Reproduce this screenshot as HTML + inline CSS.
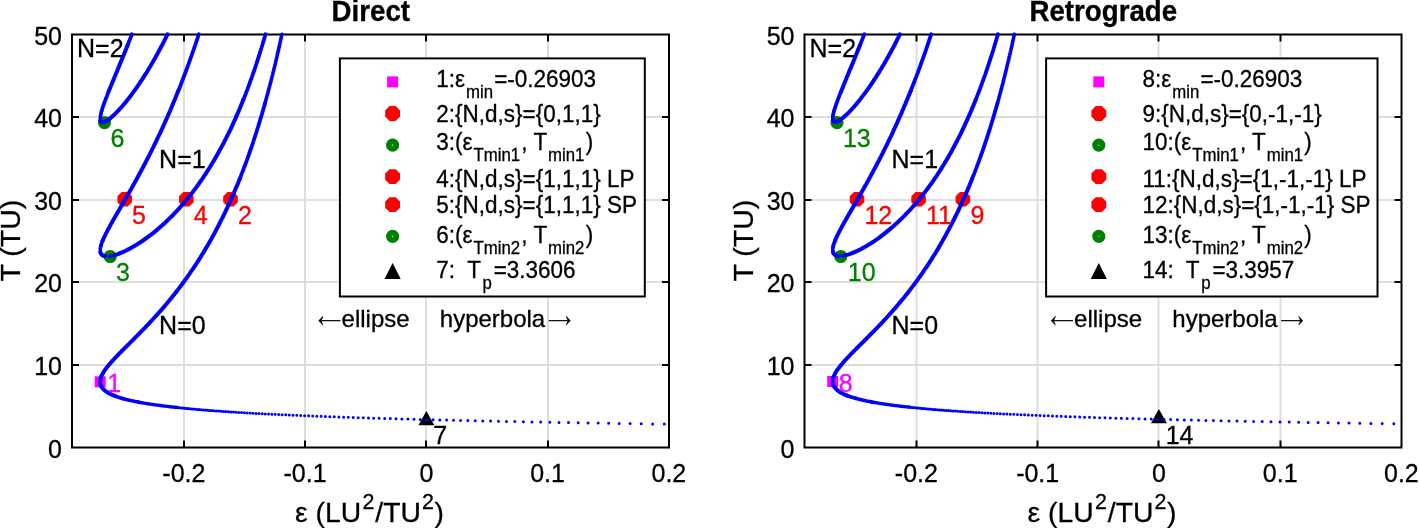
<!DOCTYPE html>
<html><head><meta charset="utf-8"><title>Lambert TOF vs energy</title>
<style>
html,body{margin:0;padding:0;background:#fff;overflow:hidden}
svg{display:block}

</style></head><body>
<svg width="1419" height="528" viewBox="0 0 1419 528" font-family="'Liberation Sans', Arial, Helvetica, sans-serif">
<rect width="1419" height="528" fill="#fff"/>
<path d="M184 34.5V447.5M305 34.5V447.5M426 34.5V447.5M548 34.5V447.5M72 365H669M72 282H669M72 200H669M72 117H669" stroke="#dedede" stroke-width="2" fill="none"/>
<path d="M184 447.5v-7M184 34.5v7M305 447.5v-7M305 34.5v7M426 447.5v-7M426 34.5v7M548 447.5v-7M548 34.5v7M72 365h7M669 365h-7M72 282h7M669 282h-7M72 200h7M669 200h-7M72 117h7M669 117h-7" stroke="#000" stroke-width="2" fill="none"/>
<rect x="72" y="34.5" width="597" height="413" stroke="#000" stroke-width="2" fill="none"/>
<rect x="94.7" y="376.3" width="11" height="11" fill="#ff00ff"/>
<polygon points="237.8,202.2 233.6,206.5 227.5,206.5 223.2,202.2 223.2,196.2 227.5,191.9 233.6,191.9 237.8,196.2" fill="#ff0000"/>
<circle cx="110.2" cy="256.5" r="3.6" fill="#fff" stroke="#008000" stroke-width="6.0"/>
<polygon points="193.6,202.2 189.3,206.5 183.3,206.5 179,202.2 179,196.2 183.3,191.9 189.3,191.9 193.6,196.2" fill="#ff0000"/>
<polygon points="132,202.2 127.7,206.5 121.6,206.5 117.4,202.2 117.4,196.2 121.6,191.9 127.7,191.9 132,196.2" fill="#ff0000"/>
<circle cx="104.5" cy="122.6" r="3.6" fill="#fff" stroke="#008000" stroke-width="6.0"/>
<polygon points="426.4,411 434.4,425.3 418.4,425.3" fill="#000"/>
<g stroke="#0000ff" stroke-linecap="round" stroke-linejoin="round" fill="none">
<path d="M100.2 381.8L100.3 383.4M176.4 407.4L178 407.6M100.2 381.6L100.3 380M100.2 250.3L100.3 251.9M100.2 250.1L100.3 248.4M100.2 118.7L100.4 120.4M100.2 118.6L100.3 116.9" stroke-width="3.2"/>
<path d="M138.4 402.1L140.2 402.5 142 402.8 143.9 403.1 145.9 403.4 148 403.8 150.1 404.1 152.4 404.4 154.7 404.8 157.1 405.1 159.5 405.4 162.1 405.8 164.8 406.1 167.5 406.4 170.4 406.7 173.3 407.1 174.9 407.2 176.4 407.4M109.4 256.2L111.5 255.9M100.3 248.4L100.6 247M100.3 116.9L100.6 115.4" stroke-width="3.4"/>
<path d="M100.3 383.4L100.7 384.9M122.5 398.5L124.3 399 126.2 399.5 128.2 400 130.4 400.5 131.8 400.8 133.4 401.1 135 401.5 136.7 401.8 138.4 402.1M100.3 380L100.7 378.5M265 103.3L265.4 101.9 265.8 100.4 266.2 98.9 266.6 97.4 267 95.9 267.4 94.4 267.9 92.9 268.2 91.5 268.6 90 269 88.5 269.4 87 269.8 85.5 270.2 84 270.6 82.5 271 81 271.3 79.6 271.7 78.1 272.1 76.6 272.5 75.1 272.8 73.6 273.2 72.1 273.6 70.6 273.9 69.1 274.3 67.7 274.7 66.2 275 64.7 275.4 63.2 275.7 61.7 276.1 60.2 276.4 58.7 276.8 57.2 277.1 55.8 277.5 54.3 277.8 52.8 278.1 51.3 278.5 49.8 278.8 48.3 279.2 46.8 279.5 45.3 279.8 43.9 280.1 42.4 280.5 40.9 280.8 39.4 281.1 37.9 281.4 36.4 281.8 34.9 281.9 34.3M103.4 255.7L105.2 256.2M111.5 255.9L113 255.5 114.8 255M100.6 247L101 245.5M100.6 115.4L100.9 113.9 101.2 112.4 101.6 111" stroke-width="3.6"/>
<path d="M114.6 395.8L116.3 396.5 117.7 397 119.2 397.5 120.8 398 122.5 398.5M100.7 378.5L101.1 377M239.6 179.2L240.2 177.7 240.8 176.2 241.3 174.7 241.9 173.3 242.5 171.8 243.1 170.3 243.6 168.8 244.2 167.3 244.8 165.8 245.3 164.3 245.9 162.8 246.4 161.4 247 159.9 247.5 158.4 248 156.9 248.6 155.4 249.1 153.9 249.6 152.4 250.1 150.9 250.6 149.5 251.2 148 251.7 146.5 252.2 145 252.7 143.5 253.2 142 253.7 140.5 254.1 139 254.6 137.6 255.1 136.1 255.6 134.6 256.1 133.1 256.6 131.6 257 130.1 257.5 128.6 258 127.1 258.4 125.7 258.9 124.2 259.3 122.7 259.8 121.2 260.2 119.7 260.7 118.2 261.1 116.7 261.6 115.2 262 113.8 262.4 112.3 262.9 110.8 263.3 109.3 263.7 107.8 264.2 106.3 264.6 104.8 265 103.3M100.3 251.9L100.8 253.4M114.8 255L116.4 254.6 117.8 254.1 119.6 253.4M243.4 99.5L244 98.1 244.6 96.6 245.2 95.1 245.8 93.6 246.3 92.1 246.9 90.6 247.5 89.1 248 87.7 248.6 86.2 249.1 84.7 249.7 83.2 250.2 81.7 250.7 80.2 251.3 78.7 251.8 77.2 252.3 75.8 252.8 74.3 253.4 72.8 253.9 71.3 254.4 69.8 254.9 68.3 255.4 66.8 255.9 65.3 256.4 63.9 256.9 62.4 257.3 60.9 257.8 59.4 258.3 57.9 258.8 56.4 259.3 54.9 259.7 53.4 260.2 52 260.6 50.5 261.1 49 261.6 47.5 262 46 262.5 44.5 262.9 43 263.3 41.5 263.8 40.1 264.2 38.6 264.7 37.1 265.1 35.6 265.5 34.3M101 245.5L101.4 244 101.9 242.5 102.5 241M178.4 90.6L179 89.1 179.6 87.7 180.2 86.2 180.8 84.7 181.3 83.2 181.9 81.7 182.5 80.2 183.1 78.7 183.6 77.2 184.2 75.8 184.7 74.3 185.3 72.8 185.9 71.3 186.4 69.8 187 68.3 187.5 66.8 188 65.3 188.6 63.9 189.1 62.4 189.7 60.9 190.2 59.4 190.7 57.9 191.3 56.4 191.8 54.9 192.3 53.4 192.8 52 193.3 50.5 193.8 49 194.4 47.5 194.9 46 195.4 44.5 195.9 43 196.4 41.5 196.9 40.1 197.4 38.6 197.9 37.1 198.3 35.6 198.8 34.3M103.5 122.2L105 121.7M101.6 111L102.1 109.5 102.5 108 103 106.5 103.5 105 104.1 103.5 104.6 102 105.2 100.5 105.7 99.1 106.3 97.6 106.9 96.1 107.4 94.6 108 93.1 108.6 91.6M127.5 45.5L128.1 44 128.6 42.5 129.2 41.1 129.8 39.6 130.4 38.1 131 36.6 131.6 35.1 131.9 34.3" stroke-width="3.8"/>
<path d="M100.7 384.9L101.3 386.4 102.2 387.7 103.3 389.1 104.5 390.2 105.7 391.2 107.2 392.2 108.5 393 110.1 393.9 111.4 394.5 112.9 395.2 114.6 395.8M101.1 377L101.7 375.5 102.5 374 103.2 372.7 104 371.4 104.9 370.1 105.9 368.7 106.9 367.4 107.9 366.1 109 364.8 110 363.6 111 362.5 112 361.3 113.1 360.1 114.1 359 115.2 357.8 116.3 356.7 117.4 355.5 118.5 354.4 119.7 353.2 120.8 352.1 121.9 350.9 123.1 349.7 124.3 348.6 125.4 347.4 126.6 346.3 127.7 345.1 128.9 344 130 342.8 131.2 341.6 132.4 340.5 133.5 339.3 134.7 338.2 135.8 337 137 335.9 138.1 334.7 139.3 333.5 140.4 332.4 141.5 331.2 142.6 330.1 143.8 328.9 144.9 327.8 146 326.6 147.1 325.4 148.2 324.3 149.3 323.1 150.4 322 151.4 320.8 152.5 319.7 153.6 318.5 154.6 317.3 155.7 316.2 156.7 315 157.8 313.9 158.8 312.7 159.8 311.6 160.9 310.4 161.9 309.3 162.9 308.1 163.9 306.9 164.9 305.8 165.8 304.6 166.8 303.5 167.8 302.3 168.7 301.2 169.7 300 170.8 298.7 171.9 297.4 172.9 296 174 294.7 175 293.4 176.1 292.1 177.1 290.7 178.1 289.4 179.1 288.1 180.1 286.8 181.1 285.5 182.1 284.1 183.1 282.8 184.1 281.5 185 280.2 186 278.8 186.9 277.5 187.9 276.2 188.8 274.9 189.7 273.6 190.6 272.2 191.5 270.9 192.4 269.6 193.3 268.3 194.2 266.9 195.1 265.6 196 264.3 196.8 263 197.7 261.7 198.5 260.3 199.4 259 200.2 257.7 201 256.4 201.8 255 202.6 253.7 203.5 252.4 204.3 251.1 205 249.8 205.8 248.4 206.6 247.1 207.4 245.8 208.2 244.5 208.9 243.2 209.7 241.8 210.4 240.5 211.2 239.2 211.9 237.9 212.6 236.5 213.4 235.2 214.1 233.9 214.8 232.6 215.5 231.3 216.3 229.8 217.1 228.3 217.9 226.8 218.6 225.3 219.4 223.8 220.1 222.3 220.9 220.8 221.6 219.4 222.4 217.9 223.1 216.4 223.8 214.9 224.6 213.4 225.3 211.9 226 210.4 226.7 208.9 227.4 207.5 228.1 206 228.7 204.5 229.4 203 230.1 201.5 230.8 200 231.4 198.5 232.1 197 232.7 195.6 233.4 194.1 234 192.6 234.7 191.1 235.3 189.6 235.9 188.1 236.5 186.6 237.2 185.1 237.8 183.7 238.4 182.2 239 180.7 239.6 179.2M100.8 253.4L101.8 254.7 103.4 255.7M119.6 253.4L121.3 252.7 122.8 252.1 124.3 251.4 125.6 250.8 127.3 249.9 128.9 249.1 130.5 248.3 131.9 247.4 133.4 246.6 134.8 245.8 136.2 245 137.5 244.1 138.8 243.3 140.1 242.5 141.6 241.5 143 240.5 144.4 239.5 145.8 238.5 147.2 237.5 148.5 236.5 149.9 235.5 151.1 234.6 152.4 233.6 153.7 232.6 154.9 231.6 156.1 230.6 157.3 229.6 158.4 228.6 159.6 227.6 160.7 226.6 162 225.5 163.3 224.3 164.6 223.2 165.8 222 167 220.8 168.2 219.7 169.4 218.5 170.6 217.4 171.7 216.2 172.9 215.1 174 213.9 175.1 212.7 176.2 211.6 177.3 210.4 178.3 209.3 179.4 208.1 180.4 207 181.4 205.8 182.4 204.6 183.4 203.5 184.4 202.3 185.4 201.2 186.4 200 187.5 198.7 188.5 197.4 189.6 196.1 190.6 194.7 191.7 193.4 192.7 192.1 193.7 190.8 194.7 189.4 195.7 188.1 196.7 186.8 197.6 185.5 198.6 184.2 199.5 182.8 200.4 181.5 201.3 180.2 202.3 178.9 203.2 177.5 204 176.2 204.9 174.9 205.8 173.6 206.6 172.3 207.5 170.9 208.3 169.6 209.2 168.3 210 167 210.8 165.6 211.6 164.3 212.4 163 213.2 161.7 214 160.4 214.8 159 215.5 157.7 216.3 156.4 217.1 155.1 217.8 153.8 218.5 152.4 219.3 151.1 220 149.8 220.7 148.5 221.4 147.1 222.2 145.7 223 144.2 223.8 142.7 224.6 141.2 225.3 139.7 226.1 138.2 226.8 136.7 227.6 135.2 228.3 133.8 229 132.3 229.8 130.8 230.5 129.3 231.2 127.8 231.9 126.3 232.6 124.8 233.2 123.3 233.9 121.9 234.6 120.4 235.3 118.9 235.9 117.4 236.6 115.9 237.2 114.4 237.9 112.9 238.5 111.4 239.1 110 239.8 108.5 240.4 107 241 105.5 241.6 104 242.2 102.5 242.8 101 243.4 99.5M102.5 241L103.1 239.5 103.8 238 104.5 236.5 105.2 235.1 105.9 233.6 106.7 232.1 107.5 230.6 108.2 229.1 109 227.8 109.7 226.5 110.4 225.1 111.1 223.8 111.9 222.5 112.6 221.2 113.4 219.9 114.1 218.5 114.9 217.2 115.7 215.9 116.4 214.6 117.2 213.2 117.9 211.9 118.7 210.6 119.5 209.3 120.2 208 121 206.6 121.8 205.3 122.5 204 123.3 202.7 124.1 201.3 124.8 200 125.6 198.7 126.4 197.4 127.1 196.1 127.9 194.7 128.6 193.4 129.4 192.1 130.1 190.8 130.9 189.4 131.6 188.1 132.4 186.8 133.1 185.5 133.8 184.2 134.6 182.8 135.3 181.5 136 180.2 136.8 178.9 137.5 177.5 138.2 176.2 138.9 174.9 139.6 173.6 140.3 172.3 141.1 170.9 141.8 169.4 142.6 168 143.4 166.5 144.2 165 145 163.5 145.8 162 146.5 160.5 147.3 159 148.1 157.6 148.8 156.1 149.6 154.6 150.3 153.1 151.1 151.6 151.8 150.1 152.5 148.6 153.3 147.1 154 145.7 154.7 144.2 155.5 142.7 156.2 141.2 156.9 139.7 157.6 138.2 158.3 136.7 159 135.2 159.7 133.8 160.4 132.3 161.1 130.8 161.8 129.3 162.5 127.8 163.2 126.3 163.8 124.8 164.5 123.3 165.2 121.9 165.8 120.4 166.5 118.9 167.2 117.4 167.8 115.9 168.5 114.4 169.1 112.9 169.8 111.4 170.4 110 171 108.5 171.7 107 172.3 105.5 172.9 104 173.5 102.5 174.2 101 174.8 99.5 175.4 98.1 176 96.6 176.6 95.1 177.2 93.6 177.8 92.1 178.4 90.6M100.4 120.4L101.2 121.9 101.8 122.2M105 121.7L106.5 120.9 107.8 120 109.2 119 110.5 118.1 111.6 117.1 112.9 115.9 114.2 114.8 115.4 113.6 116.5 112.4 117.7 111.3 118.7 110.1 119.8 109 120.8 107.8 121.9 106.7 122.9 105.5 123.9 104.3 124.8 103.2 125.9 101.9 127 100.5 128 99.2 129 97.9 130.1 96.6 131.1 95.3 132.1 93.9 133 92.6 134 91.3 134.9 90 135.9 88.6 136.8 87.3 137.7 86 138.6 84.7 139.5 83.4 140.4 82 141.3 80.7 142.2 79.4 143 78.1 143.9 76.7 144.7 75.4 145.5 74.1 146.4 72.8 147.2 71.5 148 70.1 148.8 68.8 149.6 67.5 150.4 66.2 151.2 64.8 151.9 63.5 152.7 62.2 153.5 60.9 154.2 59.6 155 58.2 155.7 56.9 156.4 55.6 157.2 54.3 157.9 52.9 158.6 51.6 159.3 50.3 160.1 48.8 160.9 47.3 161.7 45.8 162.5 44.4 163.2 42.9 164 41.4 164.7 39.9 165.5 38.4 166.2 36.9 167 35.4 167.5 34.3M108.6 91.6L109.2 90.1 109.8 88.6 110.4 87.2 111 85.7 111.6 84.2 112.2 82.7 112.9 81.2 113.5 79.7 114.1 78.2 114.7 76.7 115.3 75.3 115.9 73.8 116.5 72.3 117.2 70.8 117.8 69.3 118.4 67.8 119 66.3 119.6 64.8 120.2 63.4 120.8 61.9 121.4 60.4 122 58.9 122.7 57.4 123.3 55.9 123.9 54.4 124.5 52.9 125.1 51.5 125.7 50 126.3 48.5 126.9 47 127.5 45.5" stroke-width="4"/>
</g>
<path d="M179.6 407.7h0M181.2 407.9h0M182.9 408.1h0M184.6 408.2h0M186.3 408.4h0M188.1 408.6h0M189.9 408.7h0M191.7 408.9h0M193.6 409.1h0M195.5 409.2h0M197.4 409.4h0M199.3 409.6h0M201.3 409.7h0M203.4 409.9h0M205.4 410.1h0M207.6 410.2h0M209.7 410.4h0M211.9 410.5h0M214.1 410.7h0M216.4 410.9h0M218.7 411h0M221.1 411.2h0M223.5 411.4h0M225.9 411.5h0M228.4 411.7h0M230.9 411.9h0M233.5 412h0M236.1 412.2h0M238.8 412.4h0M241.5 412.5h0M244.3 412.7h0M247.2 412.9h0M250.1 413h0M253 413.2h0M256 413.4h0M259 413.5h0M262.2 413.7h0M265.3 413.9h0M268.6 414h0M271.9 414.2h0M275.2 414.3h0M278.7 414.5h0M282.1 414.7h0M285.7 414.8h0M289.3 415h0M293 415.2h0M296.8 415.3h0M300.7 415.5h0M304.6 415.7h0M308.6 415.8h0M312.7 416h0M316.8 416.2h0M321.1 416.3h0M325.4 416.5h0M329.8 416.7h0M334.3 416.8h0M338.9 417h0M343.6 417.2h0M348.3 417.3h0M353.2 417.5h0M358.2 417.7h0M363.3 417.8h0M368.5 418h0M373.7 418.2h0M379.1 418.3h0M384.7 418.5h0M390.3 418.6h0M396 418.8h0M401.9 419h0M407.9 419.1h0M414 419.3h0M420.2 419.5h0M426.6 419.6h0M433.1 419.8h0M439.8 420h0M446.6 420.1h0M453.5 420.3h0M460.6 420.5h0M467.8 420.6h0M475.2 420.8h0M482.8 421h0M490.6 421.1h0M498.5 421.3h0M506.5 421.5h0M514.8 421.6h0M523.3 421.8h0M531.9 422h0M540.7 422.1h0M549.8 422.3h0M559 422.4h0M568.5 422.6h0M578.2 422.8h0M588.1 422.9h0M598.2 423.1h0M608.6 423.3h0M619.2 423.4h0M630.1 423.6h0M641.2 423.8h0M652.6 423.9h0M664.3 424.1h0" stroke="#0000ff" stroke-width="3" stroke-linecap="round" fill="none"/>
<text x="62" y="457.7" font-size="25" fill="#000" text-anchor="end" stroke="#000" stroke-width="0.3">0</text>
<text x="62" y="375.1" font-size="25" fill="#000" text-anchor="end" stroke="#000" stroke-width="0.3">10</text>
<text x="62" y="292.4" font-size="25" fill="#000" text-anchor="end" stroke="#000" stroke-width="0.3">20</text>
<text x="62" y="209.8" font-size="25" fill="#000" text-anchor="end" stroke="#000" stroke-width="0.3">30</text>
<text x="62" y="127.2" font-size="25" fill="#000" text-anchor="end" stroke="#000" stroke-width="0.3">40</text>
<text x="62" y="44.6" font-size="25" fill="#000" text-anchor="end" stroke="#000" stroke-width="0.3">50</text>
<text x="183.9" y="482.1" font-size="25" fill="#000" text-anchor="middle" stroke="#000" stroke-width="0.3">-0.2</text>
<text x="305.1" y="482.1" font-size="25" fill="#000" text-anchor="middle" stroke="#000" stroke-width="0.3">-0.1</text>
<text x="426.4" y="482.1" font-size="25" fill="#000" text-anchor="middle" stroke="#000" stroke-width="0.3">0</text>
<text x="547.6" y="482.1" font-size="25" fill="#000" text-anchor="middle" stroke="#000" stroke-width="0.3">0.1</text>
<text x="668.9" y="482.1" font-size="25" fill="#000" text-anchor="middle" stroke="#000" stroke-width="0.3">0.2</text>
<text transform="translate(370.8,20.7) scale(1,1.065)" font-size="27.7" font-weight="bold" text-anchor="middle" stroke="#000" stroke-width="0.3">Direct</text>
<text x="295.1" y="521.7" font-size="28.3" stroke="#000" stroke-width="0.3">&#949; (LU<tspan font-size="21.5" dx="1.3" dy="-12.9">2</tspan><tspan dx="0.9" dy="12.9">/TU</tspan><tspan font-size="21.5" dx="1.0" dy="-12.9">2</tspan><tspan dx="0.5" dy="12.9">)</tspan></text>
<text transform="translate(20,240.6) rotate(-90)" font-size="28.5" text-anchor="middle" stroke="#000" stroke-width="0.3">T (TU)</text>
<text x="77" y="56.7" font-size="25" fill="#000" stroke="#000" stroke-width="0.3">N=2</text>
<text x="159.1" y="168.1" font-size="25" fill="#000" stroke="#000" stroke-width="0.3">N=1</text>
<text x="159.1" y="333.6" font-size="25" fill="#000" stroke="#000" stroke-width="0.3">N=0</text>
<text x="107.2" y="391.8" font-size="25" fill="#ff00ff" stroke="#ff00ff" stroke-width="0.3">1</text>
<text x="238" y="224.3" font-size="25" fill="#ff0000" stroke="#ff0000" stroke-width="0.3">2</text>
<text x="116.1" y="280.5" font-size="25" fill="#008000" stroke="#008000" stroke-width="0.3">3</text>
<text x="193.8" y="224.3" font-size="25" fill="#ff0000" stroke="#ff0000" stroke-width="0.3">4</text>
<text x="132.1" y="224.3" font-size="25" fill="#ff0000" stroke="#ff0000" stroke-width="0.3">5</text>
<text x="110.4" y="146.5" font-size="25" fill="#008000" stroke="#008000" stroke-width="0.3">6</text>
<text x="433.2" y="444.2" font-size="25" fill="#000" stroke="#000" stroke-width="0.3">7</text>
<text transform="translate(318.2,329.6) scale(1,1.13)" font-family="NanumGothic, 'Liberation Sans', sans-serif" font-size="23.8" stroke="#000" stroke-width="0.45">&#8592;</text>
<text x="341.6" y="326.5" font-size="24" stroke="#000" stroke-width="0.3">ellipse</text>
<text x="439.8" y="326.5" font-size="24" stroke="#000" stroke-width="0.3">hyperbola</text>
<text transform="translate(548.6,329.6) scale(1,1.13)" font-family="NanumGothic, 'Liberation Sans', sans-serif" font-size="23.8" stroke="#000" stroke-width="0.45">&#8594;</text>
<rect x="339.9" y="58.4" width="304.9" height="238.1" fill="#fff" stroke="#000" stroke-width="2"/>
<rect x="387.1" y="76.4" width="11" height="11" fill="#ff00ff"/>
<text transform="translate(436.3,86.5) scale(1,1.05)" font-size="22.5" stroke="#000" stroke-width="0.3">1:&#949;<tspan font-size="16.8" dx="0.9" dy="10.5">min</tspan><tspan font-size="22.5" dx="1.2" dy="-10.5">=-0.26903</tspan></text>
<polygon points="400,116.6 395.7,120.9 389.5,120.9 385.2,116.6 385.2,110.4 389.5,106.1 395.7,106.1 400,110.4" fill="#ff0000"/>
<text transform="translate(436.3,121.7) scale(1,1.05)" font-size="22.5" stroke="#000" stroke-width="0.3">2:{N,d,s}={0,1,1}</text>
<circle cx="392.6" cy="145.1" r="3.6" fill="#fff" stroke="#008000" stroke-width="6.0"/>
<text transform="translate(436.3,149.5) scale(1,1.05)" font-size="22.5" stroke="#000" stroke-width="0.3">3:(&#949;<tspan font-size="16.8" dx="0.9" dy="10.5">Tmin1</tspan><tspan font-size="22.5" dx="1.2" dy="-10.5">, T</tspan><tspan font-size="16.8" dx="0.9" dy="10.5">min1</tspan><tspan font-size="22.5" dx="1.2" dy="-10.5">)</tspan></text>
<polygon points="400,179.7 395.7,184 389.5,184 385.2,179.7 385.2,173.5 389.5,169.2 395.7,169.2 400,173.5" fill="#ff0000"/>
<text transform="translate(436.3,186.7) scale(1,1.05)" font-size="22.5" stroke="#000" stroke-width="0.3">4:{N,d,s}={1,1,1} LP</text>
<polygon points="400,207.7 395.7,212 389.5,212 385.2,207.7 385.2,201.5 389.5,197.2 395.7,197.2 400,201.5" fill="#ff0000"/>
<text transform="translate(436.3,212.7) scale(1,1.05)" font-size="22.5" stroke="#000" stroke-width="0.3">5:{N,d,s}={1,1,1} SP</text>
<circle cx="392.6" cy="236.3" r="3.6" fill="#fff" stroke="#008000" stroke-width="6.0"/>
<text transform="translate(436.3,242.7) scale(1,1.05)" font-size="22.5" stroke="#000" stroke-width="0.3">6:(&#949;<tspan font-size="16.8" dx="0.9" dy="10.5">Tmin2</tspan><tspan font-size="22.5" dx="1.2" dy="-10.5">, T</tspan><tspan font-size="16.8" dx="0.9" dy="10.5">min2</tspan><tspan font-size="22.5" dx="1.2" dy="-10.5">)</tspan></text>
<polygon points="392.6,263.1 400.7,279 384.5,279" fill="#000"/>
<text transform="translate(436.3,278) scale(1,1.05)" font-size="22.5" stroke="#000" stroke-width="0.3">7:&#160; T<tspan font-size="16.8" dx="1.7" dy="10.5">p</tspan><tspan font-size="22.5" dx="1.8" dy="-10.5">=3.3606</tspan></text>
<path d="M916.5 34.5V447.5M1037.5 34.5V447.5M1158.5 34.5V447.5M1280.5 34.5V447.5M804.5 365H1401.5M804.5 282H1401.5M804.5 200H1401.5M804.5 117H1401.5" stroke="#dedede" stroke-width="2" fill="none"/>
<path d="M916.5 447.5v-7M916.5 34.5v7M1037.5 447.5v-7M1037.5 34.5v7M1158.5 447.5v-7M1158.5 34.5v7M1280.5 447.5v-7M1280.5 34.5v7M804.5 365h7M1401.5 365h-7M804.5 282h7M1401.5 282h-7M804.5 200h7M1401.5 200h-7M804.5 117h7M1401.5 117h-7" stroke="#000" stroke-width="2" fill="none"/>
<rect x="804.5" y="34.5" width="597" height="413" stroke="#000" stroke-width="2" fill="none"/>
<rect x="827.2" y="376" width="11" height="11" fill="#ff00ff"/>
<polygon points="970.2,202.2 965.9,206.5 959.9,206.5 955.6,202.2 955.6,196.2 959.9,191.9 965.9,191.9 970.2,196.2" fill="#ff0000"/>
<circle cx="840.8" cy="256.5" r="3.6" fill="#fff" stroke="#008000" stroke-width="6.0"/>
<polygon points="925.9,202.2 921.6,206.5 915.6,206.5 911.3,202.2 911.3,196.2 915.6,191.9 921.6,191.9 925.9,196.2" fill="#ff0000"/>
<polygon points="864.3,202.2 860,206.5 854,206.5 849.7,202.2 849.7,196.2 854,191.9 860,191.9 864.3,196.2" fill="#ff0000"/>
<circle cx="837" cy="122.6" r="3.6" fill="#fff" stroke="#008000" stroke-width="6.0"/>
<polygon points="1158.9,408.9 1166.9,423.2 1150.9,423.2" fill="#000"/>
<g stroke="#0000ff" stroke-linecap="round" stroke-linejoin="round" fill="none">
<path d="M839 256L840.3 256" stroke-width="3"/>
<path d="M832.7 381.6L832.9 383.3M908.6 407.1L910.1 407.2M832.7 381.5L832.8 379.8M832.7 249.9L832.8 248.3M832.7 118.4L832.8 116.7" stroke-width="3.2"/>
<path d="M871.6 402L873.4 402.3 875.2 402.6 877.2 402.9 879.2 403.3 881.3 403.6 883.5 403.9 885.7 404.3 888.1 404.6 890.5 404.9 893 405.3 895.6 405.6 898.3 405.9 901.1 406.3 904 406.6 907 406.9 908.6 407.1M832.7 250.1L832.9 251.7M837.5 255.9L839 256M842.2 255.9L844.1 255.5M832.8 248.3L833.1 246.8M832.7 118.6L832.9 120.2M832.8 116.7L833 115.2" stroke-width="3.4"/>
<path d="M832.9 383.3L833.2 384.8M855.5 398.3L857.3 398.8 859.2 399.3 861.3 399.8 863.4 400.3 864.9 400.6 866.5 401 868.1 401.3 869.8 401.6 871.6 402M832.8 379.8L833.1 378.3M997.5 103.2L997.9 101.7 998.3 100.2 998.7 98.7 999.1 97.2 999.5 95.7 999.9 94.3 1000.3 92.8 1000.7 91.3 1001.1 89.8 1001.5 88.3 1001.9 86.8 1002.3 85.3 1002.7 83.9 1003.1 82.4 1003.4 80.9 1003.8 79.4 1004.2 77.9 1004.6 76.4 1004.9 74.9 1005.3 73.4 1005.7 72 1006 70.5 1006.4 69 1006.8 67.5 1007.1 66 1007.5 64.5 1007.8 63 1008.2 61.5 1008.6 60.1 1008.9 58.6 1009.2 57.1 1009.6 55.6 1009.9 54.1 1010.3 52.6 1010.6 51.1 1011 49.6 1011.3 48.2 1011.6 46.7 1012 45.2 1012.3 43.7 1012.6 42.2 1012.9 40.7 1013.3 39.2 1013.6 37.7 1013.9 36.3 1014.2 34.8 1014.3 34.3M844.1 255.5L846.3 255M833.1 246.8L833.4 245.3M833 115.2L833.3 113.8 833.7 112.3 834.1 110.8" stroke-width="3.6"/>
<path d="M847 395.5L848.7 396.2 850.6 396.8 852.1 397.3 853.8 397.8 855.5 398.3M833.1 378.3L833.6 376.8M972 179L972.6 177.5 973.2 176.1 973.8 174.6 974.4 173.1 975 171.6 975.5 170.1 976.1 168.6 976.7 167.1 977.2 165.6 977.8 164.2 978.3 162.7 978.9 161.2 979.4 159.7 979.9 158.2 980.5 156.7 981 155.2 981.5 153.8 982.1 152.3 982.6 150.8 983.1 149.3 983.6 147.8 984.1 146.3 984.6 144.8 985.1 143.3 985.6 141.9 986.1 140.4 986.6 138.9 987.1 137.4 987.6 135.9 988.1 134.4 988.5 132.9 989 131.4 989.5 130 990 128.5 990.4 127 990.9 125.5 991.3 124 991.8 122.5 992.2 121 992.7 119.5 993.1 118.1 993.6 116.6 994 115.1 994.5 113.6 994.9 112.1 995.3 110.6 995.8 109.1 996.2 107.6 996.6 106.2 997 104.7 997.5 103.2M832.9 251.7L833.4 253.2M835.8 255.4L837.5 255.9M846.3 255L848 254.6 849.5 254.1 851.4 253.4 853 252.7M975.5 100.4L976.1 98.9 976.7 97.4 977.2 95.9 977.8 94.4 978.4 92.9 979 91.5 979.5 90 980.1 88.5 980.7 87 981.2 85.5 981.8 84 982.3 82.5 982.8 81 983.4 79.6 983.9 78.1 984.4 76.6 985 75.1 985.5 73.6 986 72.1 986.5 70.6 987 69.1 987.5 67.7 988 66.2 988.5 64.7 989 63.2 989.5 61.7 990 60.2 990.4 58.7 990.9 57.2 991.4 55.8 991.9 54.3 992.3 52.8 992.8 51.3 993.3 49.8 993.7 48.3 994.2 46.8 994.6 45.3 995.1 43.9 995.5 42.4 996 40.9 996.4 39.4 996.8 37.9 997.3 36.4 997.7 34.9 997.9 34.3M833.4 245.3L833.9 243.8 834.4 242.3 835 240.8M910.9 90.5L911.4 89 912 87.5 912.6 86 913.2 84.5 913.8 83 914.4 81.5 914.9 80 915.5 78.6 916.1 77.1 916.6 75.6 917.2 74.1 917.8 72.6 918.3 71.1 918.9 69.6 919.4 68.2 920 66.7 920.5 65.2 921 63.7 921.6 62.2 922.1 60.7 922.7 59.2 923.2 57.7 923.7 56.3 924.2 54.8 924.8 53.3 925.3 51.8 925.8 50.3 926.3 48.8 926.8 47.3 927.3 45.8 927.8 44.4 928.3 42.9 928.8 41.4 929.3 39.9 929.8 38.4 930.3 36.9 930.8 35.4 931.2 34.3M836.2 121.9L837.9 121.2M834.1 110.8L834.5 109.3 835 107.8 835.5 106.3 836 104.8 836.5 103.3 837.1 101.9 837.6 100.4 838.2 98.9 838.7 97.4 839.3 95.9 839.9 94.4 840.5 92.9 841.1 91.5M859.9 45.3L860.5 43.9 861.1 42.4 861.7 40.9 862.3 39.4 862.9 37.9 863.4 36.4 864 34.9 864.3 34.3" stroke-width="3.8"/>
<path d="M833.2 384.8L833.9 386.3 834.8 387.6 835.7 388.7 836.9 389.9 838.2 390.9 839.6 391.9 841 392.7 842.5 393.5 843.9 394.2 845.3 394.9 847 395.5M833.6 376.8L834.2 375.4 834.9 373.9 835.6 372.5 836.4 371.2 837.3 369.9 838.3 368.6 839.3 367.3 840.3 365.9 841.4 364.6 842.4 363.5 843.4 362.3 844.4 361.1 845.4 360 846.5 358.8 847.6 357.7 848.7 356.5 849.8 355.4 850.9 354.2 852 353 853.2 351.9 854.3 350.7 855.5 349.6 856.6 348.4 857.8 347.3 858.9 346.1 860.1 344.9 861.3 343.8 862.4 342.6 863.6 341.5 864.7 340.3 865.9 339.2 867 338 868.2 336.8 869.3 335.7 870.5 334.5 871.6 333.4 872.8 332.2 873.9 331.1 875 329.9 876.1 328.8 877.3 327.6 878.4 326.4 879.5 325.3 880.6 324.1 881.7 323 882.8 321.8 883.8 320.7 884.9 319.5 886 318.3 887 317.2 888.1 316 889.1 314.9 890.2 313.7 891.2 312.6 892.2 311.4 893.2 310.2 894.3 309.1 895.3 307.9 896.3 306.8 897.2 305.6 898.2 304.5 899.2 303.3 900.2 302.1 901.1 301 902.1 299.8 903.2 298.5 904.3 297.2 905.3 295.9 906.4 294.5 907.4 293.2 908.5 291.9 909.5 290.6 910.5 289.3 911.5 287.9 912.5 286.6 913.5 285.3 914.5 284 915.5 282.6 916.5 281.3 917.4 280 918.4 278.7 919.3 277.4 920.3 276 921.2 274.7 922.1 273.4 923 272.1 923.9 270.7 924.8 269.4 925.7 268.1 926.6 266.8 927.5 265.5 928.4 264.1 929.2 262.8 930.1 261.5 930.9 260.2 931.8 258.8 932.6 257.5 933.4 256.2 934.3 254.9 935.1 253.6 935.9 252.2 936.7 250.9 937.5 249.6 938.3 248.3 939 247 939.8 245.6 940.6 244.3 941.3 243 942.1 241.7 942.8 240.3 943.6 239 944.3 237.7 945.1 236.4 945.8 235.1 946.5 233.7 947.2 232.4 947.9 231.1 948.7 229.6 949.5 228.1 950.3 226.6 951.1 225.1 951.8 223.7 952.6 222.2 953.3 220.7 954.1 219.2 954.8 217.7 955.5 216.2 956.3 214.7 957 213.2 957.7 211.8 958.4 210.3 959.1 208.8 959.8 207.3 960.5 205.8 961.2 204.3 961.9 202.8 962.5 201.3 963.2 199.9 963.9 198.4 964.5 196.9 965.2 195.4 965.8 193.9 966.5 192.4 967.1 190.9 967.7 189.4 968.4 188 969 186.5 969.6 185 970.2 183.5 970.8 182 971.4 180.5 972 179M833.4 253.2L834.5 254.6 835.8 255.4M853 252.7L854.6 252.1 856.1 251.4 857.5 250.8 858.9 250.1 860.5 249.3 862.1 248.4 863.6 247.6 865.1 246.8 866.5 246 867.9 245.1 869.3 244.3 870.6 243.5 871.9 242.7 873.1 241.8 874.6 240.8 876.1 239.8 877.5 238.9 878.9 237.9 880.2 236.9 881.5 235.9 882.8 234.9 884.1 233.9 885.4 232.9 886.6 231.9 887.8 230.9 889 229.9 890.2 228.9 891.4 227.9 892.5 227 893.6 226 894.9 224.8 896.2 223.7 897.5 222.5 898.7 221.3 899.9 220.2 901.1 219 902.3 217.9 903.5 216.7 904.6 215.6 905.7 214.4 906.8 213.2 907.9 212.1 909 210.9 910.1 209.8 911.2 208.6 912.2 207.5 913.2 206.3 914.3 205.1 915.3 204 916.3 202.8 917.2 201.7 918.2 200.5 919.2 199.4 920.3 198 921.3 196.7 922.4 195.4 923.4 194.1 924.5 192.7 925.5 191.4 926.5 190.1 927.5 188.8 928.5 187.5 929.4 186.1 930.4 184.8 931.3 183.5 932.3 182.2 933.2 180.9 934.1 179.5 935 178.2 935.9 176.9 936.8 175.6 937.7 174.2 938.5 172.9 939.4 171.6 940.2 170.3 941.1 169 941.9 167.6 942.7 166.3 943.5 165 944.3 163.7 945.1 162.3 945.9 161 946.7 159.7 947.5 158.4 948.3 157.1 949 155.7 949.8 154.4 950.5 153.1 951.3 151.8 952 150.4 952.7 149.1 953.4 147.8 954.1 146.5 954.9 145 955.7 143.5 956.5 142 957.3 140.5 958 139 958.8 137.6 959.5 136.1 960.3 134.6 961 133.1 961.7 131.6 962.4 130.1 963.1 128.6 963.8 127.1 964.5 125.7 965.2 124.2 965.9 122.7 966.6 121.2 967.3 119.7 967.9 118.2 968.6 116.7 969.2 115.2 969.9 113.8 970.5 112.3 971.2 110.8 971.8 109.3 972.4 107.8 973 106.3 973.7 104.8 974.3 103.3 974.9 101.9 975.5 100.4M835 240.8L835.6 239.4 836.2 237.9 836.9 236.4 837.6 234.9 838.4 233.4 839.1 231.9 839.9 230.4 840.7 228.9 841.4 227.6 842.1 226.3 842.8 225 843.6 223.7 844.3 222.3 845.1 221 845.8 219.7 846.6 218.4 847.3 217 848.1 215.7 848.8 214.4 849.6 213.1 850.4 211.8 851.1 210.4 851.9 209.1 852.7 207.8 853.4 206.5 854.2 205.1 855 203.8 855.7 202.5 856.5 201.2 857.3 199.9 858 198.5 858.8 197.2 859.5 195.9 860.3 194.6 861 193.2 861.8 191.9 862.5 190.6 863.3 189.3 864 188 864.8 186.6 865.5 185.3 866.3 184 867 182.7 867.7 181.3 868.5 180 869.2 178.7 869.9 177.4 870.6 176.1 871.3 174.7 872.1 173.4 872.8 172.1 873.5 170.8 874.3 169.3 875.1 167.8 875.9 166.3 876.6 164.8 877.4 163.3 878.2 161.8 879 160.4 879.7 158.9 880.5 157.4 881.3 155.9 882 154.4 882.8 152.9 883.5 151.4 884.2 149.9 885 148.5 885.7 147 886.5 145.5 887.2 144 887.9 142.5 888.6 141 889.3 139.5 890 138.1 890.8 136.6 891.5 135.1 892.2 133.6 892.9 132.1 893.5 130.6 894.2 129.1 894.9 127.6 895.6 126.2 896.3 124.7 897 123.2 897.6 121.7 898.3 120.2 898.9 118.7 899.6 117.2 900.3 115.7 900.9 114.3 901.6 112.8 902.2 111.3 902.8 109.8 903.5 108.3 904.1 106.8 904.7 105.3 905.4 103.8 906 102.4 906.6 100.9 907.2 99.4 907.8 97.9 908.4 96.4 909.1 94.9 909.7 93.4 910.3 91.9 910.9 90.5M832.9 120.2L833.7 121.5 834.2 121.9M837.9 121.2L839.4 120.4 840.9 119.4 842.2 118.4 843.4 117.4 844.6 116.4 845.8 115.2 847.1 114.1 848.3 112.9 849.4 111.8 850.5 110.6 851.6 109.5 852.6 108.3 853.7 107.2 854.7 106 855.7 104.8 856.7 103.7 857.6 102.5 858.7 101.2 859.8 99.9 860.8 98.6 861.8 97.2 862.8 95.9 863.8 94.6 864.8 93.3 865.8 91.9 866.8 90.6 867.7 89.3 868.6 88 869.6 86.7 870.5 85.3 871.4 84 872.3 82.7 873.2 81.4 874 80 874.9 78.7 875.8 77.4 876.6 76.1 877.4 74.8 878.3 73.4 879.1 72.1 879.9 70.8 880.7 69.5 881.5 68.2 882.3 66.8 883.1 65.5 883.9 64.2 884.6 62.9 885.4 61.5 886.2 60.2 886.9 58.9 887.7 57.6 888.4 56.3 889.1 54.9 889.9 53.6 890.6 52.3 891.3 51 892 49.6 892.8 48.2 893.6 46.7 894.4 45.2 895.2 43.7 895.9 42.2 896.7 40.7 897.4 39.2 898.2 37.7 898.9 36.3 899.7 34.8 899.9 34.3M841.1 91.5L841.7 90 842.3 88.5 842.9 87 843.5 85.5 844.1 84 844.7 82.5 845.3 81 845.9 79.6 846.5 78.1 847.1 76.6 847.8 75.1 848.4 73.6 849 72.1 849.6 70.6 850.2 69.1 850.8 67.7 851.4 66.2 852.1 64.7 852.7 63.2 853.3 61.7 853.9 60.2 854.5 58.7 855.1 57.2 855.7 55.8 856.3 54.3 856.9 52.8 857.5 51.3 858.1 49.8 858.7 48.3 859.3 46.8 859.9 45.3" stroke-width="4"/>
</g>
<path d="M911.7 407.4h0M913.4 407.6h0M915 407.7h0M916.7 407.9h0M918.4 408.1h0M920.2 408.2h0M922 408.4h0M923.8 408.6h0M925.6 408.7h0M927.5 408.9h0M929.4 409.1h0M931.4 409.2h0M933.4 409.4h0M935.4 409.6h0M937.5 409.7h0M939.6 409.9h0M941.7 410.1h0M943.9 410.2h0M946.1 410.4h0M948.4 410.5h0M950.7 410.7h0M953 410.9h0M955.4 411h0M957.8 411.2h0M960.3 411.4h0M962.8 411.5h0M965.4 411.7h0M968 411.9h0M970.7 412h0M973.4 412.2h0M976.2 412.4h0M979 412.5h0M981.9 412.7h0M984.8 412.9h0M987.8 413h0M990.8 413.2h0M993.9 413.4h0M997.1 413.5h0M1000.3 413.7h0M1003.6 413.9h0M1006.9 414h0M1010.3 414.2h0M1013.8 414.3h0M1017.4 414.5h0M1021 414.7h0M1024.6 414.8h0M1028.4 415h0M1032.2 415.2h0M1036.1 415.3h0M1040.1 415.5h0M1044.2 415.7h0M1048.3 415.8h0M1052.5 416h0M1056.8 416.2h0M1061.2 416.3h0M1065.7 416.5h0M1070.3 416.7h0M1074.9 416.8h0M1079.7 417h0M1084.5 417.2h0M1089.5 417.3h0M1094.5 417.5h0M1099.7 417.7h0M1105 417.8h0M1110.3 418h0M1115.8 418.2h0M1121.4 418.3h0M1127.1 418.5h0M1132.9 418.6h0M1138.9 418.8h0M1145 419h0M1151.2 419.1h0M1157.5 419.3h0M1164 419.5h0M1170.6 419.6h0M1177.4 419.8h0M1184.3 420h0M1191.3 420.1h0M1198.5 420.3h0M1205.9 420.5h0M1213.4 420.6h0M1221.1 420.8h0M1229 421h0M1237 421.1h0M1245.2 421.3h0M1253.6 421.5h0M1262.2 421.6h0M1271 421.8h0M1280 422h0M1289.2 422.1h0M1298.6 422.3h0M1308.2 422.4h0M1318.1 422.6h0M1328.1 422.8h0M1338.4 422.9h0M1349 423.1h0M1359.8 423.3h0M1370.9 423.4h0M1382.2 423.6h0M1393.8 423.8h0" stroke="#0000ff" stroke-width="3" stroke-linecap="round" fill="none"/>
<text x="794.5" y="457.7" font-size="25" fill="#000" text-anchor="end" stroke="#000" stroke-width="0.3">0</text>
<text x="794.5" y="375.1" font-size="25" fill="#000" text-anchor="end" stroke="#000" stroke-width="0.3">10</text>
<text x="794.5" y="292.4" font-size="25" fill="#000" text-anchor="end" stroke="#000" stroke-width="0.3">20</text>
<text x="794.5" y="209.8" font-size="25" fill="#000" text-anchor="end" stroke="#000" stroke-width="0.3">30</text>
<text x="794.5" y="127.2" font-size="25" fill="#000" text-anchor="end" stroke="#000" stroke-width="0.3">40</text>
<text x="794.5" y="44.6" font-size="25" fill="#000" text-anchor="end" stroke="#000" stroke-width="0.3">50</text>
<text x="916.4" y="482.1" font-size="25" fill="#000" text-anchor="middle" stroke="#000" stroke-width="0.3">-0.2</text>
<text x="1037.7" y="482.1" font-size="25" fill="#000" text-anchor="middle" stroke="#000" stroke-width="0.3">-0.1</text>
<text x="1158.9" y="482.1" font-size="25" fill="#000" text-anchor="middle" stroke="#000" stroke-width="0.3">0</text>
<text x="1280.2" y="482.1" font-size="25" fill="#000" text-anchor="middle" stroke="#000" stroke-width="0.3">0.1</text>
<text x="1401.4" y="482.1" font-size="25" fill="#000" text-anchor="middle" stroke="#000" stroke-width="0.3">0.2</text>
<text transform="translate(1103.3,20.7) scale(1,1.065)" font-size="27.7" font-weight="bold" text-anchor="middle" stroke="#000" stroke-width="0.3">Retrograde</text>
<text x="1027.6" y="521.7" font-size="28.3" stroke="#000" stroke-width="0.3">&#949; (LU<tspan font-size="21.5" dx="1.3" dy="-12.9">2</tspan><tspan dx="0.9" dy="12.9">/TU</tspan><tspan font-size="21.5" dx="1.0" dy="-12.9">2</tspan><tspan dx="0.5" dy="12.9">)</tspan></text>
<text transform="translate(752.5,240.6) rotate(-90)" font-size="28.5" text-anchor="middle" stroke="#000" stroke-width="0.3">T (TU)</text>
<text x="809.5" y="56.7" font-size="25" fill="#000" stroke="#000" stroke-width="0.3">N=2</text>
<text x="891.5" y="168.1" font-size="25" fill="#000" stroke="#000" stroke-width="0.3">N=1</text>
<text x="891.5" y="333.6" font-size="25" fill="#000" stroke="#000" stroke-width="0.3">N=0</text>
<text x="838.8" y="391.8" font-size="25" fill="#ff00ff" stroke="#ff00ff" stroke-width="0.3">8</text>
<text x="970.4" y="224.3" font-size="25" fill="#ff0000" stroke="#ff0000" stroke-width="0.3">9</text>
<text x="847.8" y="280.5" font-size="25" fill="#008000" stroke="#008000" stroke-width="0.3">10</text>
<text x="926" y="224.3" font-size="25" fill="#ff0000" stroke="#ff0000" stroke-width="0.3">11</text>
<text x="864.4" y="224.3" font-size="25" fill="#ff0000" stroke="#ff0000" stroke-width="0.3">12</text>
<text x="842.9" y="146.5" font-size="25" fill="#008000" stroke="#008000" stroke-width="0.3">13</text>
<text x="1165.7" y="443.9" font-size="25" fill="#000" stroke="#000" stroke-width="0.3">14</text>
<text transform="translate(1050.7,329.6) scale(1,1.13)" font-family="NanumGothic, 'Liberation Sans', sans-serif" font-size="23.8" stroke="#000" stroke-width="0.45">&#8592;</text>
<text x="1074.1" y="326.5" font-size="24" stroke="#000" stroke-width="0.3">ellipse</text>
<text x="1172.3" y="326.5" font-size="24" stroke="#000" stroke-width="0.3">hyperbola</text>
<text transform="translate(1281.1,329.6) scale(1,1.13)" font-family="NanumGothic, 'Liberation Sans', sans-serif" font-size="23.8" stroke="#000" stroke-width="0.45">&#8594;</text>
<rect x="1046.1" y="58.4" width="331.4" height="238.1" fill="#fff" stroke="#000" stroke-width="2"/>
<rect x="1093.3" y="76.4" width="11" height="11" fill="#ff00ff"/>
<text transform="translate(1142.5,86.5) scale(1,1.05)" font-size="22.5" stroke="#000" stroke-width="0.3">8:&#949;<tspan font-size="16.8" dx="0.9" dy="10.5">min</tspan><tspan font-size="22.5" dx="1.2" dy="-10.5">=-0.26903</tspan></text>
<polygon points="1106.2,116.6 1101.9,120.9 1095.7,120.9 1091.4,116.6 1091.4,110.4 1095.7,106.1 1101.9,106.1 1106.2,110.4" fill="#ff0000"/>
<text transform="translate(1142.5,121.7) scale(1,1.05)" font-size="22.5" stroke="#000" stroke-width="0.3">9:{N,d,s}={0,-1,-1}</text>
<circle cx="1098.8" cy="145.1" r="3.6" fill="#fff" stroke="#008000" stroke-width="6.0"/>
<text transform="translate(1142.5,149.5) scale(1,1.05)" font-size="22.5" stroke="#000" stroke-width="0.3">10:(&#949;<tspan font-size="16.8" dx="0.9" dy="10.5">Tmin1</tspan><tspan font-size="22.5" dx="1.2" dy="-10.5">, T</tspan><tspan font-size="16.8" dx="0.9" dy="10.5">min1</tspan><tspan font-size="22.5" dx="1.2" dy="-10.5">)</tspan></text>
<polygon points="1106.2,179.7 1101.9,184 1095.7,184 1091.4,179.7 1091.4,173.5 1095.7,169.2 1101.9,169.2 1106.2,173.5" fill="#ff0000"/>
<text transform="translate(1142.5,186.7) scale(1,1.05)" font-size="22.5" stroke="#000" stroke-width="0.3">11:{N,d,s}={1,-1,-1} LP</text>
<polygon points="1106.2,207.7 1101.9,212 1095.7,212 1091.4,207.7 1091.4,201.5 1095.7,197.2 1101.9,197.2 1106.2,201.5" fill="#ff0000"/>
<text transform="translate(1142.5,212.7) scale(1,1.05)" font-size="22.5" stroke="#000" stroke-width="0.3">12:{N,d,s}={1,-1,-1} SP</text>
<circle cx="1098.8" cy="236.3" r="3.6" fill="#fff" stroke="#008000" stroke-width="6.0"/>
<text transform="translate(1142.5,242.7) scale(1,1.05)" font-size="22.5" stroke="#000" stroke-width="0.3">13:(&#949;<tspan font-size="16.8" dx="0.9" dy="10.5">Tmin2</tspan><tspan font-size="22.5" dx="1.2" dy="-10.5">, T</tspan><tspan font-size="16.8" dx="0.9" dy="10.5">min2</tspan><tspan font-size="22.5" dx="1.2" dy="-10.5">)</tspan></text>
<polygon points="1098.8,263.1 1106.9,279 1090.7,279" fill="#000"/>
<text transform="translate(1142.5,278) scale(1,1.05)" font-size="22.5" stroke="#000" stroke-width="0.3">14:&#160; T<tspan font-size="16.8" dx="1.7" dy="10.5">p</tspan><tspan font-size="22.5" dx="1.8" dy="-10.5">=3.3957</tspan></text>
</svg>
</body></html>
